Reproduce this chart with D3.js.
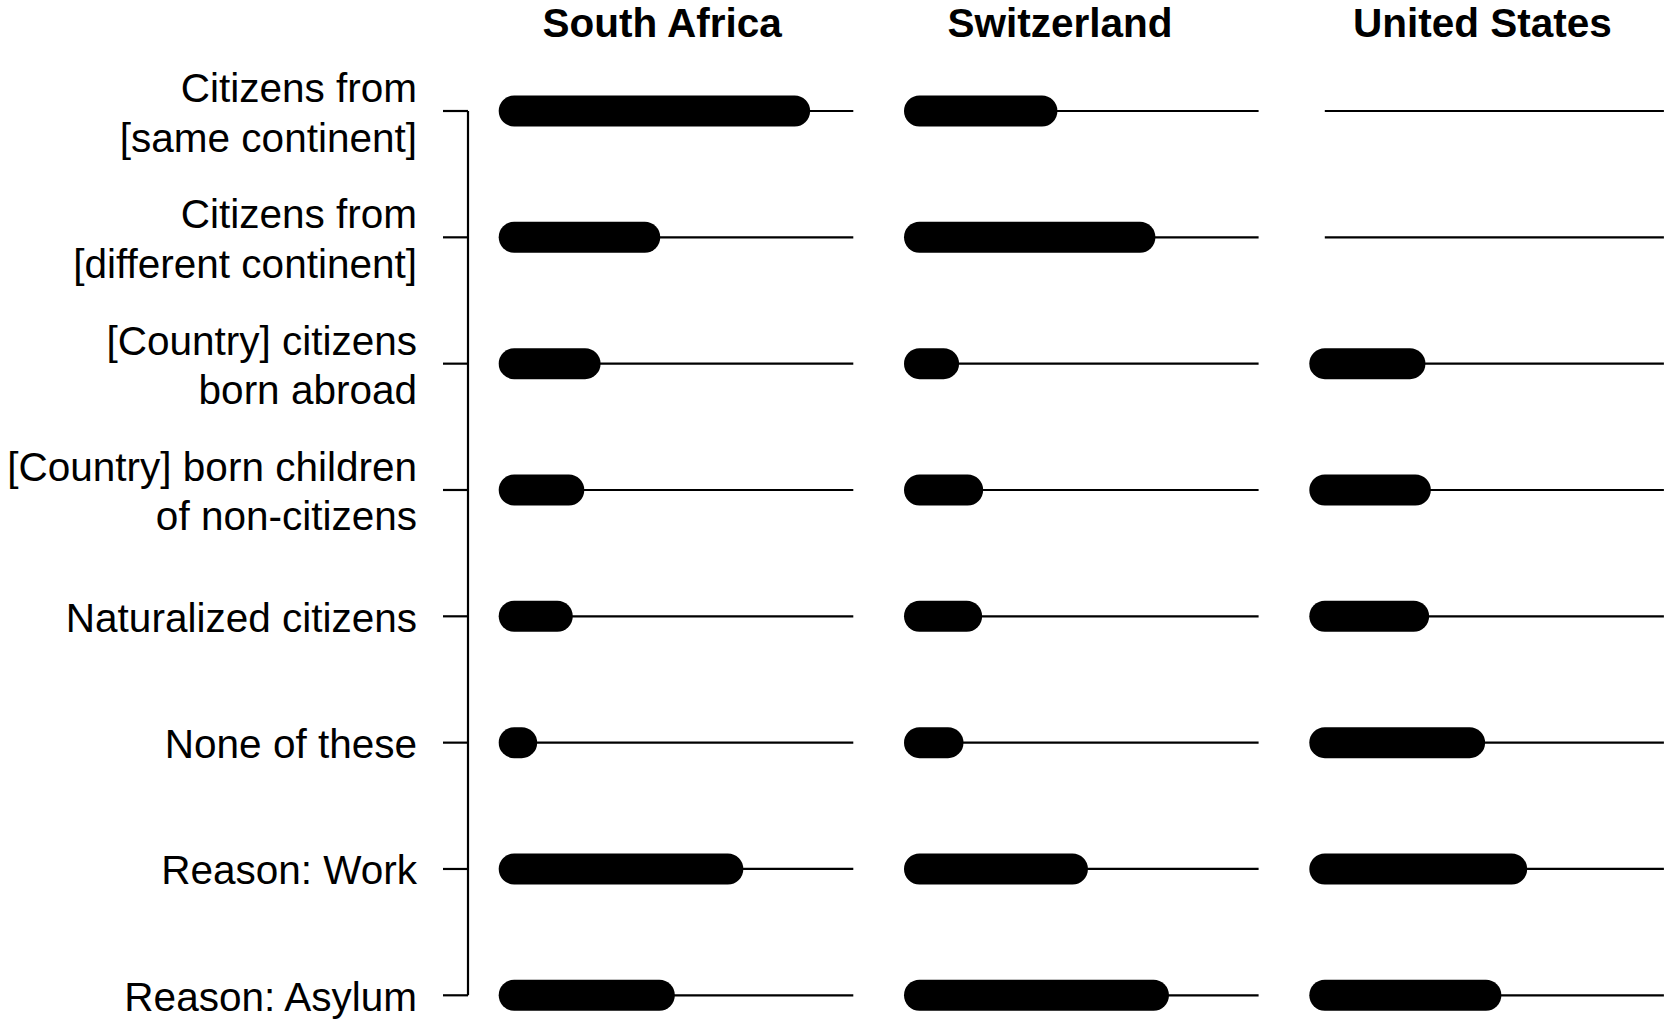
<!DOCTYPE html>
<html lang="en">
<head>
    <meta charset="UTF-8">
    <title>Citizenship categories by country</title>
    <style>
        body { margin: 0; background: #fff; }
        svg { display: block; }
        text { font-family: "Liberation Sans", Arial, Helvetica, sans-serif; fill: #000; }
    </style>
</head>
<body>
    <div id="chart"></div>

    <script src="https://d3js.org/d3.v7.min.js"></script>
    <script type="text/javascript">
// data (share of each country's axis, 0..1)
const countries = ["South Africa", "Switzerland", "United States"];
const categories = [
    ["Citizens from", "[same continent]"],
    ["Citizens from", "[different continent]"],
    ["[Country] citizens", "born abroad"],
    ["[Country] born children", "of non-citizens"],
    ["Naturalized citizens"],
    ["None of these"],
    ["Reason: Work"],
    ["Reason: Asylum"]
];
const southAfrica = [0.827, 0.385, 0.209, 0.161, 0.127, 0.022, 0.630, 0.428];
const switzerland = [0.361, 0.650, 0.071, 0.142, 0.139, 0.084, 0.451, 0.690];
const unitedStates = [null, null, 0.251, 0.267, 0.262, 0.427, 0.551, 0.475];
const seriesValues = [southAfrica, switzerland, unitedStates];

// layout
const width = 1667, height = 1022;
const rowTop = 111, rowBottom = 995.3;
const panelStart = 514.2, panelStep = 405.3, panelWidth = 339.1;
const titleOffset = [-21.5, -29, -12]; // title centre relative to panel centre
const barWidth = 31;
const axisX = 468, tickLen = 25;
const labelX = 417;

const svg = d3.select("#chart")
    .append("svg")
    .attr("width", width)
    .attr("height", height);

svg.append("rect").attr("width", width).attr("height", height).attr("fill", "#fff");

const rowIds = categories.map((c, i) => i);
const yScale = d3.scalePoint().domain(rowIds).range([rowTop, rowBottom]);

// left axis: a bracket with ticks at each row
svg.append("line")
    .attr("x1", axisX).attr("x2", axisX)
    .attr("y1", yScale(0)).attr("y2", yScale(rowIds.length - 1))
    .attr("stroke", "#000").attr("stroke-width", 2.2);

svg.selectAll(".tick")
    .data(rowIds)
    .enter()
    .append("line")
    .attr("class", "tick")
    .attr("x1", axisX - tickLen).attr("x2", axisX)
    .attr("y1", d => yScale(d)).attr("y2", d => yScale(d))
    .attr("stroke", "#000").attr("stroke-width", 2.2);

// row labels, right aligned, one or two lines
const labels = svg.selectAll(".row-label")
    .data(rowIds)
    .enter()
    .append("text")
    .attr("class", "row-label")
    .attr("text-anchor", "end")
    .style("font-size", "40.5px");

labels.each(function(d) {
    const lines = categories[d];
    const y = yScale(d);
    const first = lines.length === 1 ? y + 15.5 : y - 9;
    d3.select(this).selectAll("tspan")
        .data(lines)
        .enter()
        .append("tspan")
        .attr("x", labelX)
        .attr("y", (l, i) => first + i * 49.5)
        .text(l => l);
});

// one panel per country
countries.forEach(function(country, ci) {
    const x0 = panelStart + ci * panelStep;
    const xScale = d3.scaleLinear().domain([0, 1]).range([x0, x0 + panelWidth]);
    const g = svg.append("g").attr("class", "panel");

    g.append("text")
        .attr("x", (xScale(0) + xScale(1)) / 2 + titleOffset[ci])
        .attr("y", 36.5)
        .attr("text-anchor", "middle")
        .style("font-size", "40.5px")
        .style("font-weight", "bold")
        .text(country);

    // thin reference line across the full scale
    g.selectAll(".guide")
        .data(rowIds)
        .enter()
        .append("line")
        .attr("class", "guide")
        .attr("x1", xScale(0)).attr("x2", xScale(1))
        .attr("y1", d => yScale(d)).attr("y2", d => yScale(d))
        .attr("stroke", "#000").attr("stroke-width", 2.2);

    // thick rounded bars
    const vals = seriesValues[ci];
    g.selectAll(".bar")
        .data(rowIds.filter(d => vals[d] !== null))
        .enter()
        .append("line")
        .attr("class", "bar")
        .attr("x1", xScale(0))
        .attr("x2", d => xScale(vals[d]))
        .attr("y1", d => yScale(d)).attr("y2", d => yScale(d))
        .attr("stroke", "#000")
        .attr("stroke-width", barWidth)
        .attr("stroke-linecap", "round");
});
</script>
</body>
</html>
